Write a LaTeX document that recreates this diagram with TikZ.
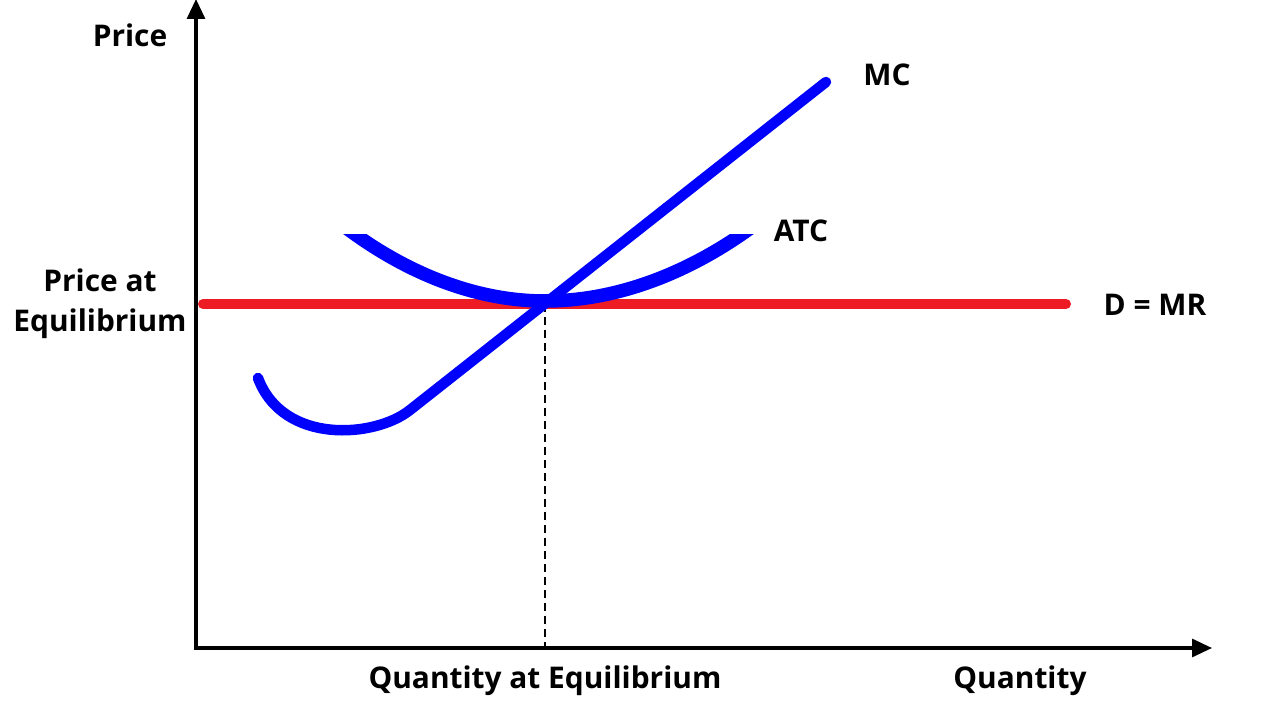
\documentclass[tikz,border=0pt]{standalone}
\usepackage{fontspec}
\setmainfont{Open Sans}
\usetikzlibrary{arrows.meta}
\definecolor{ink}{HTML}{000000}
\definecolor{cost}{HTML}{0000FF}
\definecolor{demand}{HTML}{ED1C24}

\begin{document}
\begin{tikzpicture}[
  x=.2mm,y=-.2mm,
  text=ink,
  font=\fontsize{17}{23}\selectfont\bfseries,
  axis/.style={{Triangle[length=4mm,width=3.6mm]}-{Triangle[length=4mm,width=3.6mm]},
    draw=ink,line width=1.8pt},
  curve/.style={draw=cost,line width=2.1mm,line cap=round,line join=round},
  label/.style={align=center}
]
  \useasboundingbox (0,0) rectangle (1280,720);
  \coordinate (O) at (196,648);
  \coordinate (ytop) at (196,-1);
  \coordinate (xend) at (1212,648);
  \coordinate (E) at (545,304);
  \coordinate (Ebot) at (545,301);

  % axes and price line
  \draw[axis] (ytop) -- (O) -- (xend);
  \draw[draw=demand,line width=2mm,line cap=round] (203,304) -- (1066,304);
  \draw[dashed,dash pattern=on 1.6mm off 1mm,line width=1.4pt] (E) -- (E |- O);

  % cost curves
  \begin{scope}
    \clip (0,235) rectangle (1280,720);
    \draw[curve,line width=2.7mm,line cap=butt] (345,227) parabola bend (Ebot) (752,227);
  \end{scope}
  \draw[curve] (258,378) .. controls (283,445) and (375,438) .. (410,410)
    -- (826,82);

  % labels
  \node (price) at (130,35) {Price};
  \node (qty) at (1020,681) {Quantity};
  \node[label] (peq) at (100,304) {Price at\\Equilibrium};
  \node (qeq) at (545,681) {Quantity at Equilibrium};
  \node (mc) at (887,75) {MC};
  \node (atc) at (801,231) {ATC};
  \node (dmr) at (1155,305) {D = MR};
\end{tikzpicture}
\end{document}
